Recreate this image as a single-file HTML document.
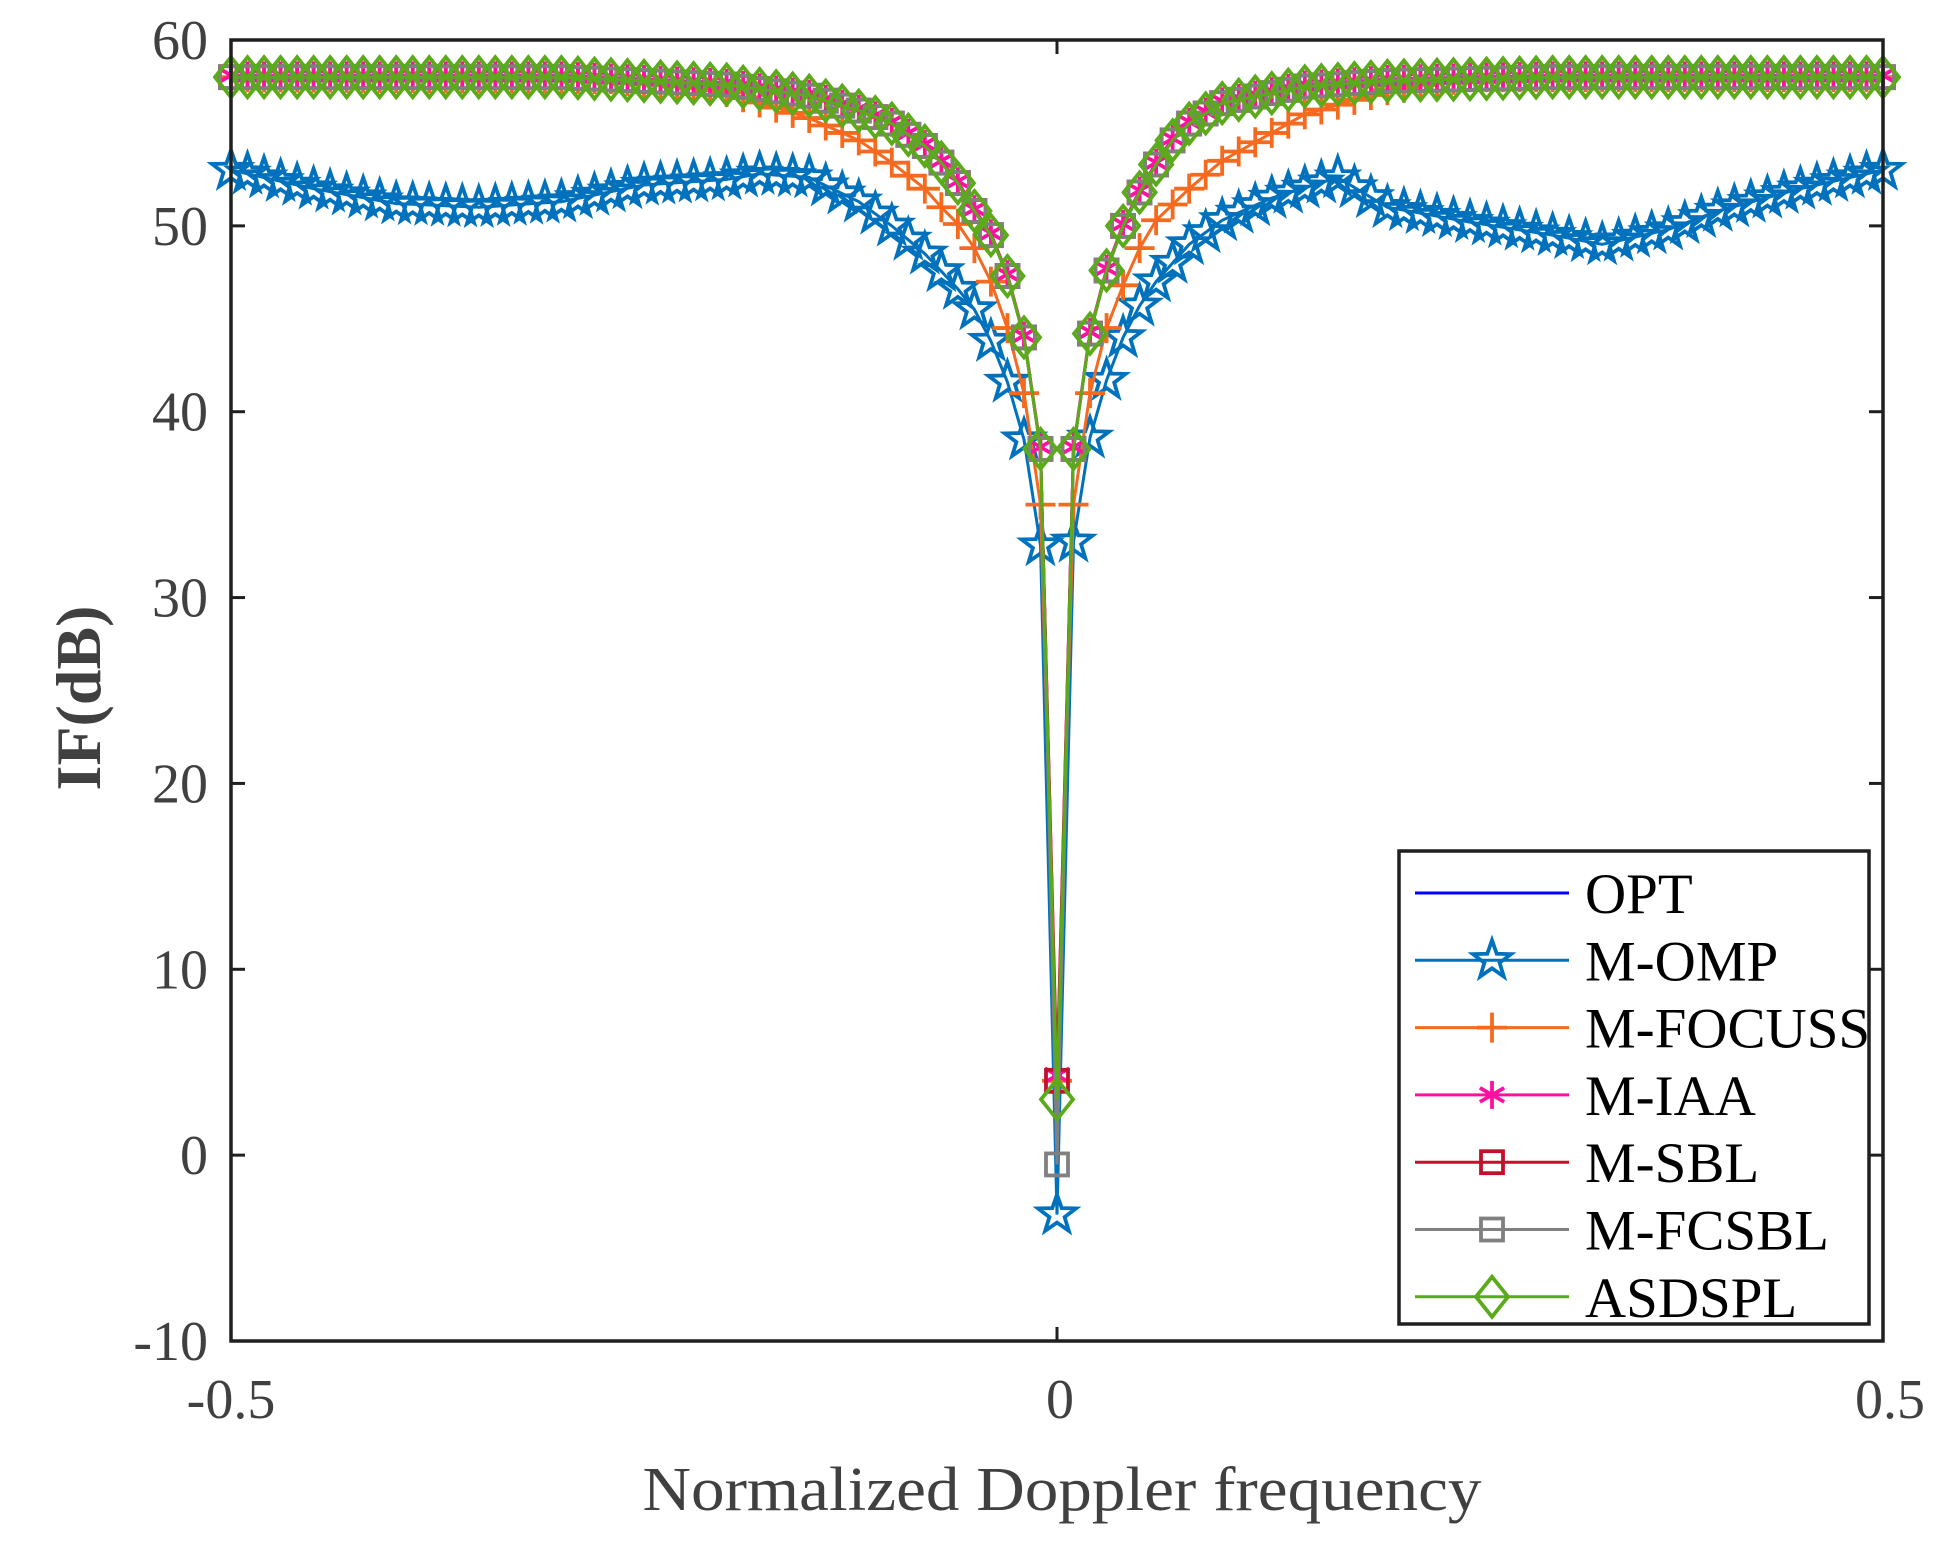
<!DOCTYPE html>
<html><head><meta charset="utf-8"><style>html,body{margin:0;padding:0;background:#fff;}svg{display:block}text{font-family:"Liberation Serif","Times New Roman",serif;}</style></head>
<body>
<svg id="s" width="1945" height="1544" xmlns="http://www.w3.org/2000/svg">
<rect width="1945" height="1544" fill="#fff"/>
<g id="plot"></g>
<g id="axes" stroke="#1f1f1f" stroke-width="3.5" fill="none">
<rect x="231" y="40" width="1652" height="1301"/>
</g>
<g id="ticks" stroke="#1f1f1f" stroke-width="3"></g>
<g fill="#404040" font-size="56" text-anchor="end" id="ylab"></g>
<g fill="#404040" font-size="56" text-anchor="middle">
<text x="231" y="1418">-0.5</text>
<text x="1060" y="1418">0</text>
<text x="1890" y="1418">0.5</text>
</g>
<text x="1062" y="1510" font-size="62" fill="#404040" text-anchor="middle" textLength="839" lengthAdjust="spacingAndGlyphs">Normalized Doppler frequency</text>
<text transform="translate(100,698) rotate(-90)" font-size="64" fill="#404040" text-anchor="middle" font-weight="bold">IF(dB)</text>
<g id="legend"></g>
</svg>
<script>
const NS="http://www.w3.org/2000/svg";
const X0=231,X1=1883,Y0=40,Y1=1341;
const px=x=>X0+(x+0.5)*(X1-X0);
const py=v=>Y0+(60-v)*(Y1-Y0)/70;
function el(t,a,p){const e=document.createElementNS(NS,t);for(const k in a)e.setAttribute(k,a[k]);p.appendChild(e);return e;}
function interp(tab,x){for(let i=0;i<tab.length-1;i++){const [a,va]=tab[i],[b,vb]=tab[i+1];if(x>=a-1e-9&&x<=b+1e-9){return va+(vb-va)*(x-a)/(b-a);}}return tab[tab.length-1][1];}
const xs=[];for(let i=-50;i<=50;i++)xs.push(i/100);
function mk(tab,c0){return xs.map(x=>Math.abs(x)<1e-9?c0:interp(tab,x));}
const base=[[-0.5,58],[-0.3,58],[-0.2,57.6],[-0.15,57.0],[-0.12,56.2],[-0.1,55.5],[-0.08,54.3],[-0.07,53.4],[-0.06,52.3],[-0.05,50.8],[-0.04,49.5],[-0.03,47.3],[-0.02,44],[-0.01,38],[0,3],[0.01,38],[0.02,44.2],[0.03,47.6],[0.04,50],[0.05,51.8],[0.06,53.3],[0.07,54.6],[0.08,55.5],[0.1,56.6],[0.15,57.5],[0.2,57.8],[0.3,58],[0.5,58]];
const foc=[[-0.5,58],[-0.27,57.9],[-0.2,57.2],[-0.15,55.8],[-0.12,54.6],[-0.1,53.4],[-0.08,52],[-0.07,51],[-0.06,50.1],[-0.05,48.8],[-0.04,47],[-0.03,44.5],[-0.02,41],[-0.01,35],[0,4],[0.01,35],[0.02,41],[0.03,44.5],[0.04,46.8],[0.05,48.8],[0.06,50.3],[0.08,52],[0.1,53.5],[0.15,56],[0.2,57.3],[0.25,58],[0.5,58]];
const omp=[[-0.5,53],[-0.45,52],[-0.4,51.2],[-0.35,51],[-0.3,51.3],[-0.25,52.2],[-0.2,52.5],[-0.18,52.8],[-0.15,52.6],[-0.12,51.3],[-0.1,50],[-0.08,48.5],[-0.06,46.6],[-0.05,45.5],[-0.04,43.8],[-0.03,41.6],[-0.02,38.5],[-0.01,32.8],[0,-3.2],[0.01,33],[0.02,38.6],[0.03,41.7],[0.04,44],[0.05,45.7],[0.06,47],[0.08,49],[0.1,50.3],[0.13,51.5],[0.17,52.6],[0.2,51],[0.25,50.2],[0.3,49.5],[0.33,49],[0.37,49.8],[0.4,50.8],[0.45,52],[0.5,53]];
const series=[
 {n:"OPT",c:"#0000FF",d:mk(base,3.5),m:null},
 {n:"M-OMP",c:"#0072BD",d:mk(omp,-3.2),m:"star"},
 {n:"M-FOCUSS",c:"#F56A1E",d:mk(foc,4),m:"plus"},
 {n:"M-IAA",c:"#FF10A0",d:mk(base.map(([a,b])=>[a,a==0?4.3:b+0.1]),4.3),m:"ast"},
 {n:"M-SBL",c:"#C3102C",d:mk(base,4),m:"sq"},
 {n:"M-FCSBL",c:"#808080",d:mk(base,-0.5),m:"sq"},
 {n:"ASDSPL",c:"#5AAA1A",d:mk(base,3),m:"dia"}
];
function marker(g,type,x,y,c){
 const sw=3.8;
 if(type=="star"){let p=[];for(let i=0;i<10;i++){const r=i%2?8:20;const a=-Math.PI/2+i*Math.PI/5;p.push((x+r*Math.cos(a)).toFixed(1)+","+(y+r*Math.sin(a)).toFixed(1));}el("polygon",{points:p.join(" "),fill:"none",stroke:c,"stroke-width":sw},g);}
 else if(type=="plus"){el("path",{d:`M${x-15},${y}H${x+15}M${x},${y-15}V${y+15}`,stroke:c,"stroke-width":sw},g);}
 else if(type=="ast"){let d=`M${x},${y-14}V${y+14}`;for(const a of [30,150]){const r=a*Math.PI/180;d+=`M${x-14*Math.cos(r)},${y-14*Math.sin(r)}L${x+14*Math.cos(r)},${y+14*Math.sin(r)}`;}el("path",{d,stroke:c,"stroke-width":sw},g);}
 else if(type=="sq"){el("rect",{x:x-11,y:y-11,width:22,height:22,fill:"none",stroke:c,"stroke-width":sw},g);}
 else if(type=="dia"){el("polygon",{points:`${x},${y-20} ${x+16},${y} ${x},${y+20} ${x-16},${y}`,fill:"none",stroke:c,"stroke-width":sw},g);}
}
const plot=document.getElementById("plot");
for(const s of series){
 const g=el("g",{},plot);
 el("polyline",{points:xs.map((x,i)=>px(x).toFixed(1)+","+py(s.d[i]).toFixed(1)).join(" "),fill:"none",stroke:s.c,"stroke-width":3},g);
 if(s.m)xs.forEach((x,i)=>marker(g,s.m,px(x),py(s.d[i]),s.c));
}
const tk=document.getElementById("ticks"),yl=document.getElementById("ylab");
for(let v=-10;v<=60;v+=10){const y=py(v);el("line",{x1:X0,y1:y,x2:X0+14,y2:y},tk);el("line",{x1:X1,y1:y,x2:X1-14,y2:y},tk);const t=el("text",{x:208,y:y+19},yl);t.textContent=v;}
for(const x of [-0.5,0,0.5]){const X=px(x);el("line",{x1:X,y1:Y1,x2:X,y2:Y1-14},tk);el("line",{x1:X,y1:Y0,x2:X,y2:Y0+14},tk);}
const lg=document.getElementById("legend");
el("rect",{x:1399,y:851,width:470,height:473,fill:"#fff",stroke:"#1f1f1f","stroke-width":3.5},lg);
series.forEach((s,i)=>{const y=893+i*67.3;el("line",{x1:1415,y1:y,x2:1569,y2:y,stroke:s.c,"stroke-width":3},lg);if(s.m)marker(lg,s.m,1492,y,s.c);const t=el("text",{x:1585,y:y+20,"font-size":57,fill:"#000"},lg);t.textContent=s.n;});
</script>
</body></html>
